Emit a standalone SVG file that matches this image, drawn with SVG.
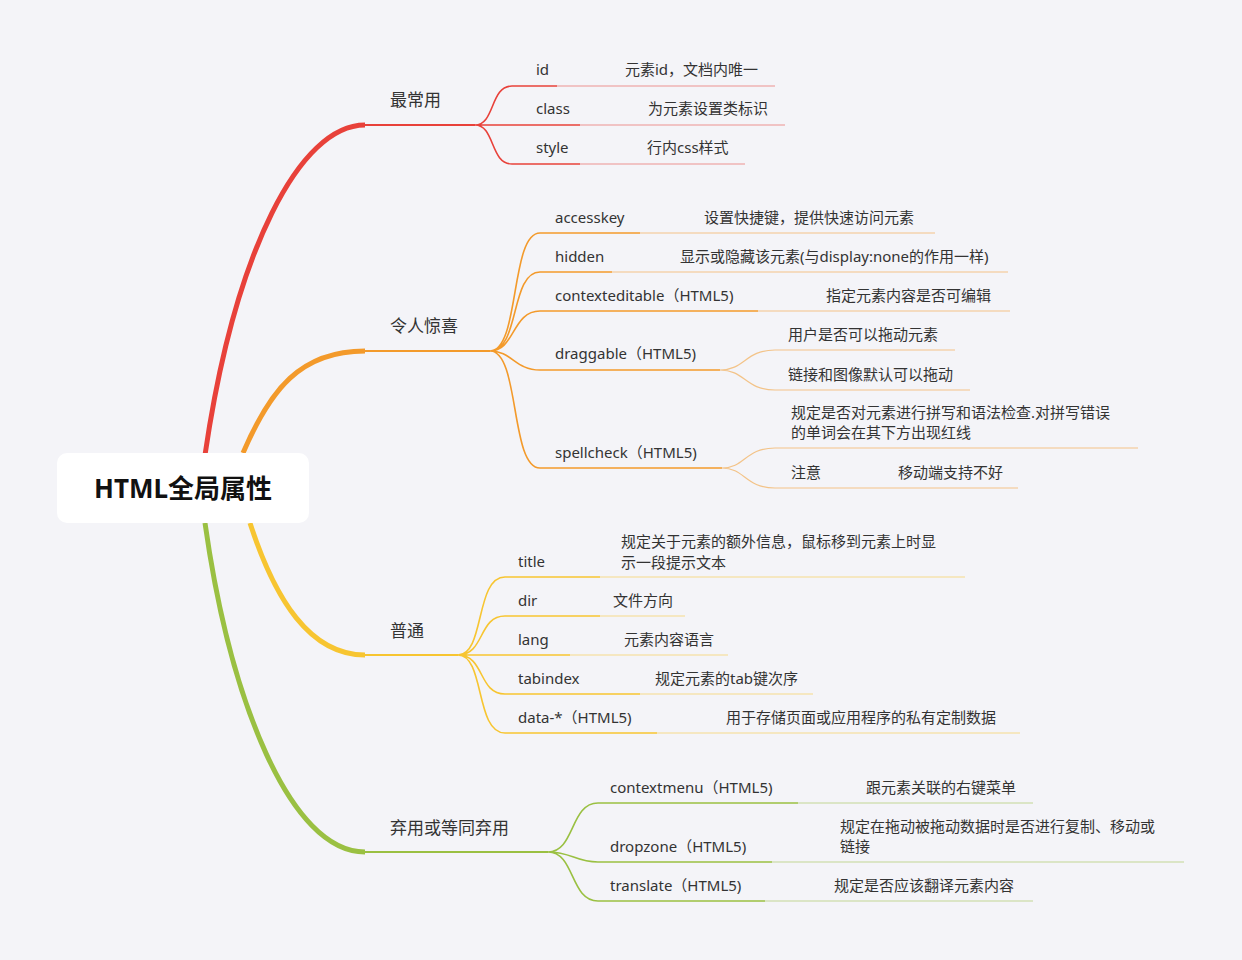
<svg xmlns="http://www.w3.org/2000/svg" width="1242" height="960" viewBox="0 0 1242 960">
<style>
text{font-family:"Noto Sans","Noto Sans CJK SC",sans-serif;font-size:15px;fill:#333}
.r{stroke:#e8413a}.o{stroke:#f39a2b}.y{stroke:#f7c531}.g{stroke:#9ac042}
path,line{fill:none;stroke-width:1.6}
.lt{opacity:.55;stroke-width:1.2}
.m{stroke-width:1.8}
</style>
<rect width="1242" height="960" fill="#f4f4f8"/>
<g id="connectors">
<path class="r" stroke-width="5" d="M205,455 C235,250 300,125 365,125" style="stroke-width:5"/>
<path class="o" style="stroke-width:5" d="M243,453 C270,390 300,351 365,351"/>
<path class="y" style="stroke-width:5" d="M250,523 C275,600 310,655 365,655"/>
<path class="g" style="stroke-width:5" d="M205,523 C230,700 290,852 365,852"/>
<line class="r m" x1="365" y1="125" x2="475" y2="125"/>
<line class="o m" x1="365" y1="351" x2="490" y2="351"/>
<line class="y m" x1="365" y1="655" x2="458" y2="655"/>
<line class="g m" x1="365" y1="852" x2="548" y2="852"/>
<path class="r" d="M475,125 C495,125 490,86 512,86 H557 M475,125 H580 M475,125 C495,125 490,164 512,164 H580"/>
<path class="r lt" d="M557,86 H775 M580,125 H785 M580,164 H745"/>
<path class="o" d="M490,351 C520,351 510,233 540,233 H640 M490,351 C520,351 510,272 540,272 H612 M490,351 C515,351 512,311 540,311 H758 M490,351 C512,351 515,370 540,370 H720 M490,351 C520,351 510,468 540,468 H722"/>
<path class="o lt" d="M640,233 H935 M612,272 H1008 M758,311 H1010 M720,370 C745,370 745,350 775,350 H955 M720,370 C745,370 745,390 775,390 H970 M722,468 C745,468 745,448 775,448 H1138 M722,468 C745,468 745,488 775,488 H1018"/>
<path class="y" d="M458,655 C485,655 475,577 505,577 H600 M458,655 C485,655 478,616 505,616 H600 M458,655 H570 M458,655 C485,655 478,694 505,694 H640 M458,655 C485,655 475,733 505,733 H657"/>
<path class="y lt" d="M600,577 H965 M600,616 H685 M570,655 H728 M640,694 H813 M657,733 H1020"/>
<path class="g" d="M548,852 C575,852 570,803 598,803 H798 M548,852 C572,852 575,862 598,862 H772 M548,852 C575,852 570,901 598,901 H765"/>
<path class="g lt" d="M798,803 H1033 M772,862 H1184 M765,901 H1033"/>
</g>
<g id="root"><rect x="57" y="453" width="252" height="70" rx="10" fill="#fff"/><text x="183" y="498" text-anchor="middle" style="font-size:26px;font-weight:bold;fill:#111">HTML全局属性</text></g>
<g id="n1"><text x="390" y="106" style="font-size:17px">最常用</text>
<text x="536" y="75">id</text><text x="625" y="75">元素id，文档内唯一</text>
<text x="536" y="114">class</text><text x="648" y="114">为元素设置类标识</text>
<text x="536" y="153">style</text><text x="647" y="153">行内css样式</text></g>
<g id="n2"><text x="390" y="332" style="font-size:17px">令人惊喜</text>
<text x="555" y="223">accesskey</text><text x="704" y="223">设置快捷键，提供快速访问元素</text>
<text x="555" y="262">hidden</text><text x="680" y="262">显示或隐藏该元素(与display:none的作用一样)</text>
<text x="555" y="301">contexteditable（HTML5)</text><text x="826" y="301">指定元素内容是否可编辑</text>
<text x="555" y="359">draggable（HTML5)</text><text x="788" y="340">用户是否可以拖动元素</text><text x="788" y="380">链接和图像默认可以拖动</text>
<text x="555" y="458">spellcheck（HTML5)</text><text x="791" y="418">规定是否对元素进行拼写和语法检查.对拼写错误</text><text x="791" y="438">的单词会在其下方出现红线</text>
<text x="791" y="478">注意</text><text x="898" y="478">移动端支持不好</text></g>
<g id="n3"><text x="390" y="637" style="font-size:17px">普通</text>
<text x="518" y="567">title</text><text x="621" y="547">规定关于元素的额外信息，鼠标移到元素上时显</text><text x="621" y="568">示一段提示文本</text>
<text x="518" y="606">dir</text><text x="613" y="606">文件方向</text>
<text x="518" y="645">lang</text><text x="624" y="645">元素内容语言</text>
<text x="518" y="684">tabindex</text><text x="655" y="684">规定元素的tab键次序</text>
<text x="518" y="723">data-*（HTML5)</text><text x="726" y="723">用于存储页面或应用程序的私有定制数据</text></g>
<g id="n4"><text x="390" y="834" style="font-size:17px">弃用或等同弃用</text>
<text x="610" y="793">contextmenu（HTML5)</text><text x="866" y="793">跟元素关联的右键菜单</text>
<text x="610" y="852">dropzone（HTML5)</text><text x="840" y="832">规定在拖动被拖动数据时是否进行复制、移动或</text><text x="840" y="852">链接</text>
<text x="610" y="891">translate（HTML5)</text><text x="834" y="891">规定是否应该翻译元素内容</text></g>
</svg>
